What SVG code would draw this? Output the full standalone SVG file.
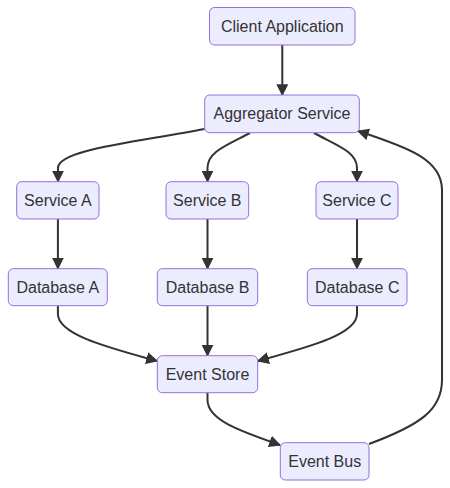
<svg xmlns="http://www.w3.org/2000/svg" width="450" height="488" viewBox="0 0 450 488">
<defs>
<marker id="arrow" viewBox="0 0 10 10" refX="9" refY="5" markerUnits="userSpaceOnUse" markerWidth="12" markerHeight="12" orient="auto">
<path d="M0,0 L10,5 L0,10 z" fill="#333333"/>
</marker>
<style>
.node rect{fill:#ECECFF;stroke:#9370DB;stroke-width:1}
.node text{fill:#333333;font-family:"Liberation Sans",Arial,sans-serif;font-size:16px;text-anchor:middle;dominant-baseline:central}
.edges path{fill:none;stroke:#333333;stroke-width:2;marker-end:url(#arrow)}
</style>
</defs>
<rect width="450" height="488" fill="#ffffff"/>
<g class="edges" id="connectors">
<path d="M282.3,45 L282.3,95"/>
<path d="M204.5,129 C130,143 58,150 58,168 L58,181.5"/>
<path d="M250,133 C225,146 207.5,152 207.5,168 L207.5,181.5"/>
<path d="M314,133 C338,146 357,152 357,168 L357,181.5"/>
<path d="M57.9,219 L57.9,268.5"/>
<path d="M207.5,219 L207.5,268.5"/>
<path d="M357,219 L357,268.5"/>
<path d="M57.9,306 L57.9,314 C57.9,335 110,348 157,361"/>
<path d="M207.5,306 L207.5,355.5"/>
<path d="M357,306 L357,314 C357,335 305,348 258,361"/>
<path d="M207.5,393 L207.5,400 C207.5,420 240,431 280,445"/>
<path d="M369,444 C420,425 442,410 442,380 L442,190 C442,160 410,148 358,131"/>
</g>
<g class="node" id="client"><rect x="209.5" y="7.5" width="145.5" height="37.5" rx="5"/><text x="282.3" y="26.3">Client Application</text></g>
<g class="node" id="aggregator"><rect x="204.7" y="95" width="154.6" height="37.7" rx="5"/><text x="282" y="113.8">Aggregator Service</text></g>
<g class="node" id="serviceA"><rect x="16.7" y="181.7" width="82.3" height="37.3" rx="5"/><text x="57.9" y="200.3">Service A</text></g>
<g class="node" id="serviceB"><rect x="166" y="181.7" width="82.7" height="37.3" rx="5"/><text x="207.3" y="200.3">Service B</text></g>
<g class="node" id="serviceC"><rect x="316" y="181.7" width="82" height="37.3" rx="5"/><text x="357" y="200.3">Service C</text></g>
<g class="node" id="dbA"><rect x="8.3" y="268.7" width="99" height="37" rx="5"/><text x="57.8" y="287.2">Database A</text></g>
<g class="node" id="dbB"><rect x="157.3" y="268.7" width="100.4" height="37" rx="5"/><text x="207.5" y="287.2">Database B</text></g>
<g class="node" id="dbC"><rect x="307.3" y="268.7" width="99.7" height="37" rx="5"/><text x="357.2" y="287.2">Database C</text></g>
<g class="node" id="eventStore"><rect x="157.3" y="355.7" width="100.4" height="37" rx="5"/><text x="207.5" y="374.2">Event Store</text></g>
<g class="node" id="eventBus"><rect x="280.3" y="442.7" width="88.7" height="37.3" rx="5"/><text x="324.7" y="461.3">Event Bus</text></g>
</svg>
